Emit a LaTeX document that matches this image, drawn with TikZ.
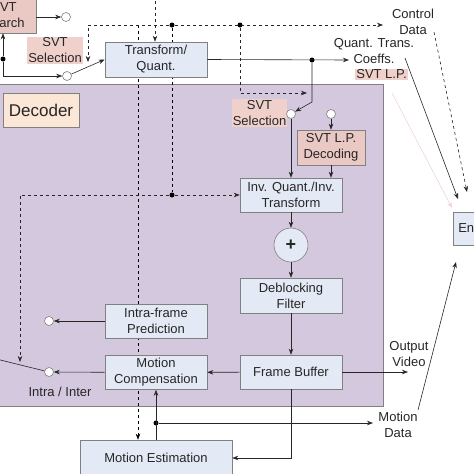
\documentclass[tikz,border=0pt]{standalone}
\usepackage{fontspec}
\setmainfont{Liberation Sans}
\usepackage{xcolor}
\usetikzlibrary{calc}
\usetikzlibrary{arrows.meta}
\usetikzlibrary{backgrounds}

\definecolor{blkfill}{RGB}{228,234,245}
\definecolor{blkline}{RGB}{128,128,128}
\definecolor{decfill}{RGB}{212,200,222}
\definecolor{svtfill}{RGB}{234,200,196}
\definecolor{tagfill}{RGB}{240,208,202}
\definecolor{decofill}{RGB}{252,230,214}
\definecolor{lpline}{RGB}{240,212,212}

\tikzset{
  blk/.style={draw=blkline, fill=blkfill, align=center, inner sep=1pt,
    minimum width=102pt, minimum height=34pt, font=\fontsize{13}{16}\selectfont},
  svtbox/.style={blk, fill=svtfill},
  tag/.style={fill=tagfill, align=center, inner sep=1pt, font=\fontsize{13}{16}\selectfont},
  txt/.style={align=center, inner sep=0pt, font=\fontsize{13}{15.5}\selectfont},
  term/.style={circle, draw=blkline, fill=white, minimum size=9pt, inner sep=0pt},
  junc/.style={circle, fill=black, minimum size=5pt, inner sep=0pt},
  ctl/.style={dashed},
}

\begin{document}
\begin{tikzpicture}[x=1pt, y=-1pt, line width=0.6pt, color=black!85,
    >={Stealth[length=6pt,width=4.5pt]}]
  \useasboundingbox (0,0) rectangle (474,474);
  \clip (0,0) rectangle (474,474);

  % encoder part
  \node[svtbox, minimum width=64pt, minimum height=36pt] (srch) at (4,15) {SVT\\Search};
  \node[term] (c1) at (66,17) {};
  \node[junc] (d1) at (3,59) {};
  \node[term] (c2) at (67,76) {};
  \node[tag] (sel1) at (55,50.5) {SVT\\Selection};
  \node[blk, minimum height=35pt] (tq) at (156,59.5) {Transform/\\Quant.};
  \node[junc] (d2) at (172,25) {};
  \node[junc] (d3) at (240,25) {};
  \node[junc] (d4) at (312,60) {};
  \node[txt] (ctrl) at (413,22) {Control\\Data};
  \node[txt] (qtc) at (374,51) {Quant. Trans.\\Coeffs.};
  \node[tag] (lp) at (381.5,74.5) {SVT L.P.};

  % decoder part
  \node[draw=blkline, fill=decofill, minimum width=76pt, minimum height=34pt,
    font=\fontsize{17}{20}\selectfont] (dec) at (41,110) {Decoder};
  \node[tag] (sel2) at (259.5,113) {SVT\\Selection};
  \node[term] (c3) at (291,114) {};
  \node[term] (c4) at (331,114) {};
  \node[svtbox, minimum width=68pt, minimum height=35pt] (lpd) at (331,147.5) {SVT L.P.\\Decoding};
  \node[blk] (iqt) at (291,195) {Inv. Quant./Inv.\\Transform};
  \node[junc] (d5) at (172,195) {};
  \node[circle, draw=blkline, fill=blkfill, minimum size=34pt, inner sep=0pt,
    font=\fontsize{18}{18}\selectfont\bfseries] (add) at (291,245) {+};
  \node[blk, minimum height=35pt] (dbf) at (291,295.5) {Deblocking\\Filter};
  \node[blk] (fb) at (291,372) {Frame Buffer};
  \node[blk] (ifp) at (156,321) {Intra-frame\\Prediction};
  \node[blk] (mc) at (156,372.5) {Motion\\Compensation};
  \node[term] (c5) at (49,321) {};
  \node[term] (c6) at (49,372) {};
  \node[txt] (ii) at (60,392) {Intra / Inter};
  \node[txt] (ov) at (409,354) {Output\\Video};
  \node[junc] (d6) at (156,423) {};
  \node[blk, minimum width=152pt, minimum height=36pt] (me) at (156,458) {Motion Estimation};
  \node[txt] (md) at (398,425) {Motion\\Data};
  \node[blk, anchor=west, minimum width=40pt, minimum height=33pt, inner xsep=3pt,
    text width=30pt, align=left] (en) at (453,228.5) {En};

  \coordinate (qin) at (155,-5);
  \coordinate (cout) at (383,25);
  \coordinate (sa) at (88,62);
  \coordinate (cf) at (349,60);
  \coordinate (bend) at (312,102);
  \coordinate (sb) at (307,93);
  \coordinate (sc) at (20,362);
  \coordinate (k) at (138,25);
  \coordinate (pv) at (-20,355);
  \coordinate (vo) at (408,372);
  \coordinate (mo) at (373,423);
  \coordinate (e1) at (434,32);
  \coordinate (e1x) at (467,192);
  \coordinate (e2) at (405,58);
  \coordinate (e2x) at (458,199);
  \coordinate (e3) at (392,93);
  \coordinate (e3x) at (452,208);
  \coordinate (e4) at (418,410);
  \coordinate (e4x) at (456,262);

  \begin{scope}[on background layer]
    \fill[decfill, draw=blkline] (-5,84) rectangle (383,406);
    \draw[ctl,->] (k) -- (k |- me.north);
    \draw[ctl] (d2) -- (d5);
  \end{scope}

  % solid data paths
  \draw[->] (srch.east |- c1) -- (c1);
  \draw (d1) -- +(-10,0);
  \draw[->] (d1) -- (d1 |- srch.south);
  \draw[->] (d1) |- (c2);
  \draw[->] (c2) -- (tq.west);
  \draw[->] (tq.east) -- (cf);
  \draw[->] (d4) -- (bend) -- (c3);
  \draw[->] (c3) -- (c3 |- iqt.north);
  \draw[->] (c4) -- (lpd.north);
  \draw[->] (lpd.south) -- (lpd.south |- iqt.north);
  \draw[->] (iqt) -- (add);
  \draw[->] (add) -- (dbf);
  \draw[->] (dbf) -- (fb);
  \draw[->] (fb.east) -- (vo);
  \draw[->] (fb) -- (mc);
  \draw[->] (ifp) -- (c5);
  \draw[->] (mc) -- (c6);
  \draw (c6) -- (pv);
  \draw[->] (me) -- (mc);
  \draw[->] (d6) -- (mo);
  \draw[->] (fb.south) |- (me.east);

  % control paths
  \draw[ctl,->] (qin) -- (qin |- tq.north);
  \draw[ctl,->] (d2) -- (cout);
  \draw[ctl,->] (d2) -| (sa);
  \draw[ctl,->] (d3) |- (sb);
  \draw[ctl,->] (d5) -- (iqt.west);
  \draw[ctl,->] (d5) -| (sc);

  % into the entropy box
  \draw[ctl,->] (e1) -- (e1x);
  \draw[->] (e2) -- (e2x);
  \draw[lpline,->] (e3) -- (e3x);
  \draw[->] (e4) -- (e4x);
\end{tikzpicture}
\end{document}
